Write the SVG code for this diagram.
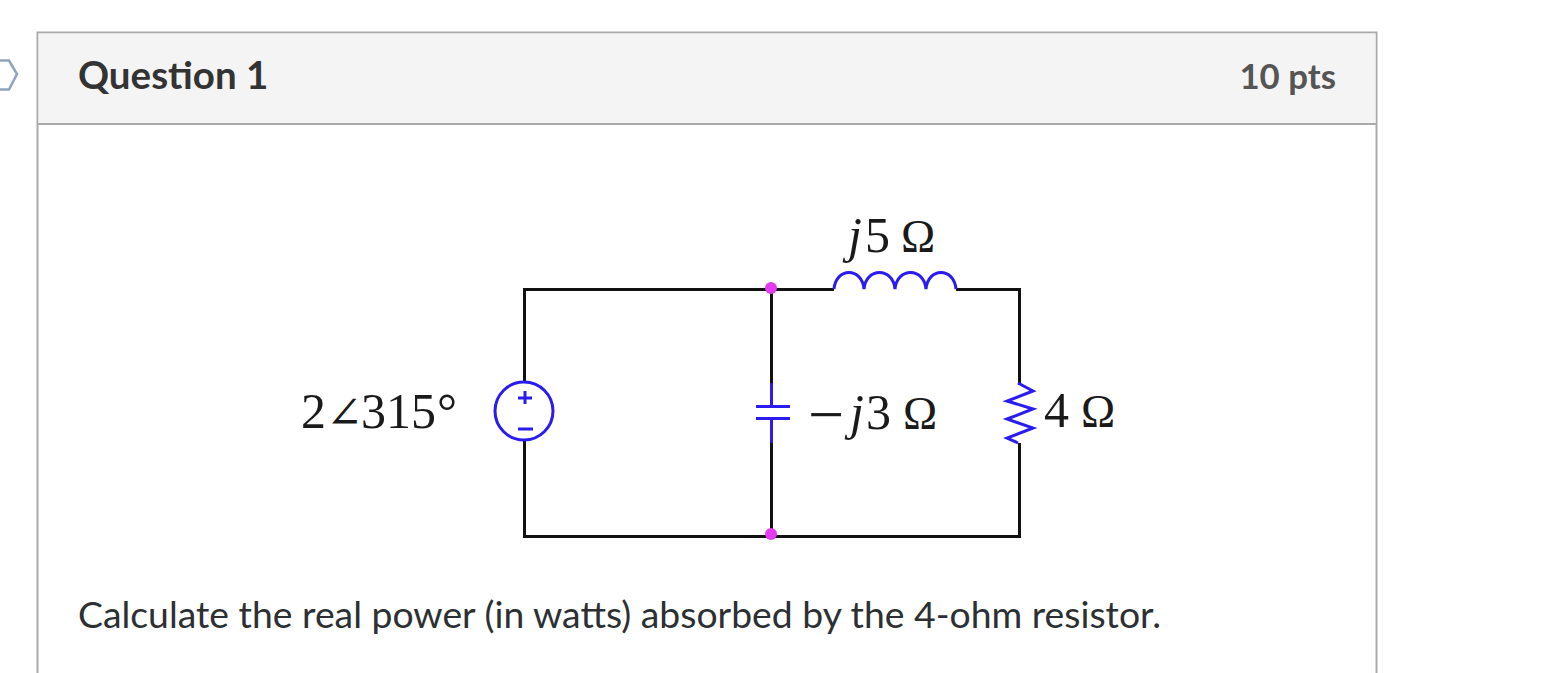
<svg xmlns="http://www.w3.org/2000/svg" width="1560" height="673" viewBox="0 0 1560 673">
<style>
.wire{fill:none;stroke:#111;stroke-width:3}
.el{fill:none;stroke:#2a1cf0;stroke-width:3}
.m{font-family:"Liberation Serif","DejaVu Serif",serif;font-size:50px;fill:#1a1a1a}
.o{font-size:46px}
.ui{font-family:Lato,"Open Sans",sans-serif}
.dot{fill:#e23bf0}
</style>
<rect width="1560" height="673" fill="#fff"/>
<g id="panel">
<path d="M37.500 673V32.500H1376.500V673" fill="#fff" stroke="#a9a9a9" stroke-width="2"/>
<rect x="38.500" y="33.500" width="1337" height="90" fill="#f4f4f4"/>
<path d="M38 124H1376" stroke="#a9a9a9" stroke-width="2"/>
<path d="M-2 60.500H9L17 74L9 89.500H-2" fill="#fff" stroke="#8fa3bb" stroke-width="2.500"/>
<text x="78" y="89" class="ui" font-size="38.500" font-weight="700" style="fill:#333">Question 1</text>
<text x="1336" y="89" class="ui" font-size="34.800" font-weight="700" fill="#555" text-anchor="end">10 pts</text>
<text x="78" y="628" class="ui" font-size="37.350" fill="#2d3033">Calculate the real power (in watts) absorbed by the 4-ohm resistor.</text>
</g>
<g id="connectors">
<path class="wire" d="M524.500 382V289.500H834M956 289.500H1019.500V385M1019.500 443V536.500H524.500V441M771.500 289.500V383M771.500 443V536.500"/>
</g>
<g id="source">
<circle class="el" cx="524" cy="411" r="29"/>
<path class="el" stroke-width="2.500" d="M525 391V404M518 398H532M518 429H533"/>
<text class="m" y="428"><tspan x="301">2</tspan><tspan x="326" font-size="44">∠</tspan><tspan x="361">315</tspan><tspan x="437">°</tspan></text>
</g>
<g id="capacitor">
<path class="el" d="M771.500 383V406M756 406.500H790M756 418.500H790M771.500 419V443"/>
<text class="m" y="429"><tspan x="808" y="436" font-size="64">−</tspan><tspan x="850" y="429" font-style="italic">j</tspan><tspan x="866">3</tspan><tspan x="903" class="o">Ω</tspan></text>
</g>
<g id="resistor">
<path class="el" d="M1018 383L1033 391L1007 401L1033 409L1007 419L1033 428L1007 438L1018 443"/>
<text class="m" y="427"><tspan x="1044">4</tspan><tspan x="1081" class="o">Ω</tspan></text>
</g>
<g id="inductor">
<path class="el" d="M834 289C836 267 862 267 864 289C866 267 893 267 895 289C897 267 924 267 926 289C928 267 954 267 956 289"/>
<text class="m" y="252"><tspan x="848" font-style="italic">j</tspan><tspan x="865">5</tspan><tspan x="901" class="o">Ω</tspan></text>
</g>
<g id="node-top"><circle class="dot" cx="771" cy="288" r="6"/></g>
<g id="node-bottom"><circle class="dot" cx="771" cy="534" r="6"/></g>
</svg>
